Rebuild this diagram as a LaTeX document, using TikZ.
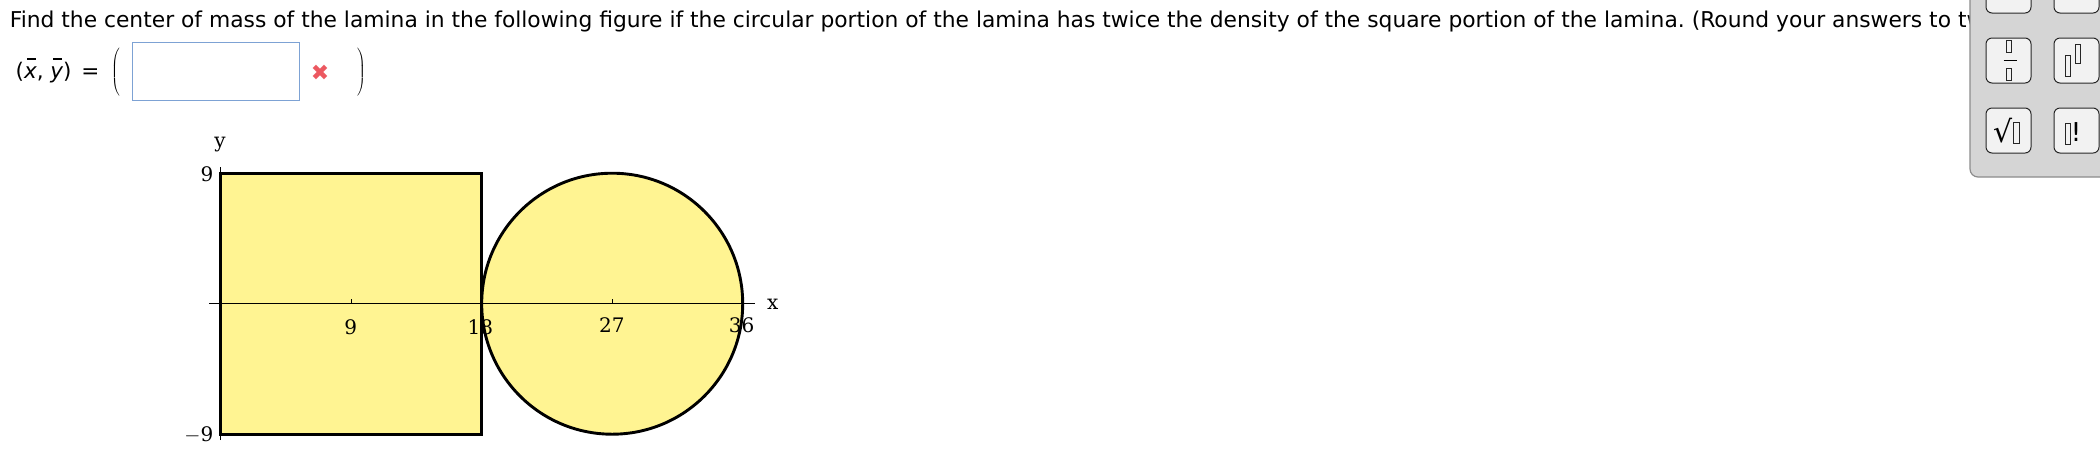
\documentclass[tikz,border=0pt]{standalone}
\usepackage{fontspec}
\setmainfont{DejaVu Sans}
\newfontfamily\figfont{DejaVu Serif}
\definecolor{lamina}{RGB}{255,244,146}
\definecolor{boxblue}{RGB}{125,162,212}
\definecolor{wrongred}{RGB}{236,88,96}
\definecolor{panelgray}{RGB}{213,213,213}
\definecolor{paneledge}{RGB}{140,140,140}
\definecolor{btnfill}{RGB}{242,242,242}
\newcommand\meanbar[1]{\leavevmode\rlap{\hspace{3pt}\raisebox{18.5pt}{\rule{8.5pt}{1.3pt}}}{\itshape #1}}
\tikzset{
  axislabel/.style={font=\figfont\fontsize{20}{24}\selectfont, inner sep=0pt},
  btn/.style={draw=black!85, fill=btnfill, rounded corners=6pt, line width=1pt},
  slot/.style={draw=black!85, line width=0.9pt}
}
\frenchspacing

\begin{document}
\begin{tikzpicture}[x=1pt,y=-1pt]
    \useasboundingbox (0,0) rectangle (2100,448);
    \fill[white] (0,0) rectangle (2100,448);

    \node[anchor=base west, inner sep=0pt, font=\fontsize{21.8}{25}\selectfont] (question) at (9.6,27.3)
        {Find the center of mass of the lamina in the following figure if the circular portion of the lamina has twice the density of the square portion of the lamina. (Round your answers to tw};
    \node[anchor=base west, inner sep=0pt, font=\fontsize{21.5}{25}\selectfont] (xybar) at (15.5,78)
        {(\meanbar{x}, \meanbar{y})\hspace{3pt} =};
    \node[inner sep=0pt] (lparen) at (116,73) {$\left(\vrule height 24pt depth 24pt width 0pt\right.$};
    \node[draw=boxblue, line width=1.2pt, minimum width=167, minimum height=58, inner sep=0pt] (answer) at (216.2,71.4) {};
    \node[inner sep=0pt, text=wrongred, font=\fontsize{22}{24}\selectfont] (wrong) at (320,72.5) {✖};
    \node[inner sep=0pt] (rparen) at (361,73) {$\left.\vrule height 24pt depth 24pt width 0pt\right)$};

    % the lamina
    \begin{scope}[shift={(220.7,303.7)}, x=14.5pt, y=14.5pt]
        \fill[lamina] (0,-9) rectangle (18,9);
        \fill[lamina] (27,0) circle[radius=9];
        \draw[line width=1.5pt] (-0.8,0) -- (36.85,0);
        \draw[line width=1.5pt] (0,-9.4) -- (0,9.4);
        \foreach \t in {9,27} \draw[line width=1.2pt] (\t,0) -- (\t,0.33);
        \node[axislabel] (t9) at (8.97,-1.6) {9};
        \node[axislabel] (t18) at (17.9,-1.6) {18};
        \node[axislabel] (t27) at (26.97,-1.5) {27};
        \node[axislabel] (t36) at (35.93,-1.5) {36};
        \node[axislabel] (xlab) at (38.07,-0.05) {x};
        \node[axislabel] (ylab) at (-0.05,10.95) {y};
        \node[axislabel, anchor=east] (ytop) at (-0.5,8.9) {9};
        \node[axislabel, anchor=east] (ybot) at (-0.5,-9.05) {$-$9};
        \draw[line width=3.2pt] (0,-9) rectangle (18,9);
        \draw[line width=2.9pt] (27,0) circle[radius=9];
    \end{scope}

    % palette
    \draw[draw=paneledge, fill=panelgray, line width=1.2pt, rounded corners=8pt] (1970,-20) rectangle (2120,177);
    \foreach \bx in {1986,2054}
        \foreach \by in {-32,38,108}
            \draw[btn] (\bx,\by) rectangle ++(45,45);
    \draw[slot] (2006.7,40.5) rectangle (2011.2,52.5);
    \draw[line width=1.2pt] (2003.5,60.7) -- (2016.5,60.7);
    \draw[slot] (2006.7,68.5) rectangle (2011.2,80);
    \draw[slot] (2065,55) rectangle (2070,76);
    \draw[slot] (2075,44.5) rectangle (2080.5,63);
    \node[inner sep=0pt, font=\fontsize{30}{30}\selectfont] (sqrtsign) at (2003,131) {√};
    \draw[slot] (2013,122) rectangle (2019,143);
    \draw[slot] (2065,123) rectangle (2070,144);
    \node[inner sep=0pt, font=\fontsize{26}{26}\selectfont] (bang) at (2076,132) {!};
\end{tikzpicture}
\end{document}
